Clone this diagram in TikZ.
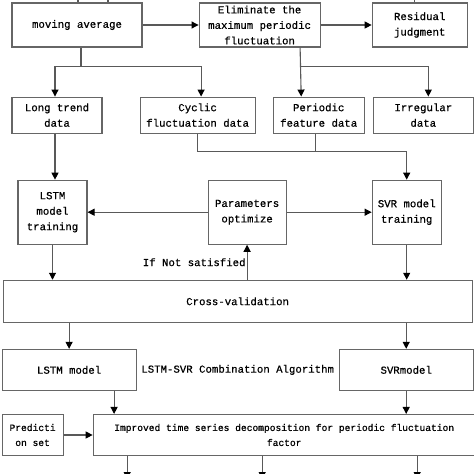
\documentclass[tikz,border=0pt]{standalone}
\usepackage{fontspec}
\setmonofont[FakeBold=0.6]{Liberation Mono}
\usetikzlibrary{arrows.meta,positioning,calc}

\begin{document}
\begin{tikzpicture}[
  x=1pt, y=1pt,
  box/.style={draw=black!60, line width=1.1pt, rectangle, align=center,
    inner sep=0pt, font=\ttfamily\fontsize{10.7}{15.5}\selectfont},
  sbox/.style={box, font=\ttfamily\fontsize{9.6}{15}\selectfont},
  lab/.style={inner sep=0pt, font=\ttfamily\fontsize{10.7}{15.5}\selectfont},
  line/.style={draw=black!65, line width=1.1pt},
  arrow/.style={line, -{Triangle[length=7pt,width=7pt,color=black]}}
]
  \useasboundingbox (0,0) rectangle (474,-474);

  \node[box, minimum width=130pt, minimum height=44pt] (ma) at (77,-25) {moving average};
  \node[box, minimum width=121pt, minimum height=44pt, right=56pt of ma]   (elim)  {Eliminate the\\maximum periodic\\fluctuation};
  \node[box, minimum width=95pt,  minimum height=44pt, right=51pt of elim] (resid) {Residual\\judgment};

  \node[box, minimum width=90pt,  minimum height=36pt, below=49pt of ma, xshift=-20pt] (trend) {Long trend\\data};
  \node[box, minimum width=115pt, minimum height=36pt, right=37pt of trend]    (cyclic)   {Cyclic\\fluctuation data};
  \node[box, minimum width=91pt,  minimum height=36pt, right=17pt of cyclic]   (periodic) {Periodic\\feature data};
  \node[box, minimum width=100pt, minimum height=36pt, right=8pt of periodic]  (irreg)    {Irregular\\data};

  \node[box, minimum width=69pt, minimum height=64pt, below=46pt of trend, xshift=-4.5pt] (lstmtrain) {LSTM\\model\\training};
  \node[box, minimum width=78pt, minimum height=64pt, right=120pt of lstmtrain] (params)   {Parameters\\optimize};
  \node[box, minimum width=69pt, minimum height=64pt, right=85pt of params]     (svrtrain) {SVR model\\training};

  \node[box, minimum width=469pt, minimum height=42pt, below=35pt of params, xshift=-9.5pt] (cross) {Cross-validation};

  \node[box, minimum width=134pt, minimum height=41pt, below=26pt of cross, xshift=-168.5pt] (lstmmodel) {LSTM model};
  \node[box, minimum width=134pt, minimum height=41pt, right=202pt of lstmmodel] (svrmodel) {SVRmodel};
  \node[lab] (combo) at ($(lstmmodel.east)!0.5!(svrmodel.west)$) {LSTM-SVR Combination Algorithm};

  \node[sbox, minimum width=61pt,  minimum height=41pt, below=23pt of lstmmodel, xshift=-36.5pt] (pred) {Predicti\\on set};
  \node[sbox, minimum width=382pt, minimum height=41pt, right=29pt of pred] (improved) {Improved time series decomposition for periodic fluctuation\\factor};

  % stubs at the edges
  \coordinate (inA) at ([xshift=1pt]ma.north |- 0,0);
  \coordinate (inB) at ([xshift=31pt]ma.north |- 0,0);
  \coordinate (outR) at ([xshift=-5.5pt]resid.north |- 0,0);
  \draw[line] (inA) -- ([xshift=1pt]ma.north);
  \draw[line] (inB) -- ([xshift=31pt]ma.north);
  \draw[line] ([xshift=-5.5pt]resid.north) -- (outR);

  % top row
  \draw[arrow] (ma) -- (elim);
  \draw[arrow] (elim) -- (resid);
  \draw[line] ([xshift=4pt]ma.south) -- ++(0,-19pt) coordinate (masplit);
  \draw[arrow] (masplit) -| ([xshift=-2pt]trend.north);
  \draw[arrow] (masplit) -| ([xshift=3.5pt]cyclic.north);
  \draw[arrow] ([xshift=40.5pt]elim.south) -- ([xshift=-17.5pt]periodic.north);
  \draw[arrow] ([xshift=40.5pt]elim.south) ++(0,-19pt) -| ([xshift=5pt]irreg.north);

  % data to training
  \draw[arrow] ([xshift=-2pt]trend.south) -- ([xshift=-2pt]trend.south |- lstmtrain.north);
  \draw[arrow] (cyclic.south) -- ++(0,-18pt) -| (svrtrain.north);
  \draw[line] ([xshift=-3.5pt]periodic.south) -- ++(0,-18pt);
  \draw[arrow] (params) -- (lstmtrain);
  \draw[arrow] (params) -- (svrtrain);

  % validation
  \draw[arrow] (lstmtrain) -- (lstmtrain |- cross.north);
  \draw[arrow] (svrtrain) -- (svrtrain |- cross.north);
  \draw[arrow] (params |- cross.north) -- (params)
    node[lab, midway, left=1pt] {If Not satisfied};
  \draw[arrow] (lstmmodel |- cross.south) -- (lstmmodel);
  \draw[arrow] (svrmodel |- cross.south) -- (svrmodel);

  % combination
  \draw[arrow] ([xshift=45pt]lstmmodel.south) -- ([xshift=45pt]lstmmodel.south |- improved.north);
  \draw[arrow] (svrmodel) -- (svrmodel |- improved.north);
  \draw[arrow] (pred) -- (improved);
  \foreach \dx in {-157,-22,133}
    \draw[arrow] ([xshift=\dx pt]improved.south) -- ++(0,-23pt);
\end{tikzpicture}
\end{document}
